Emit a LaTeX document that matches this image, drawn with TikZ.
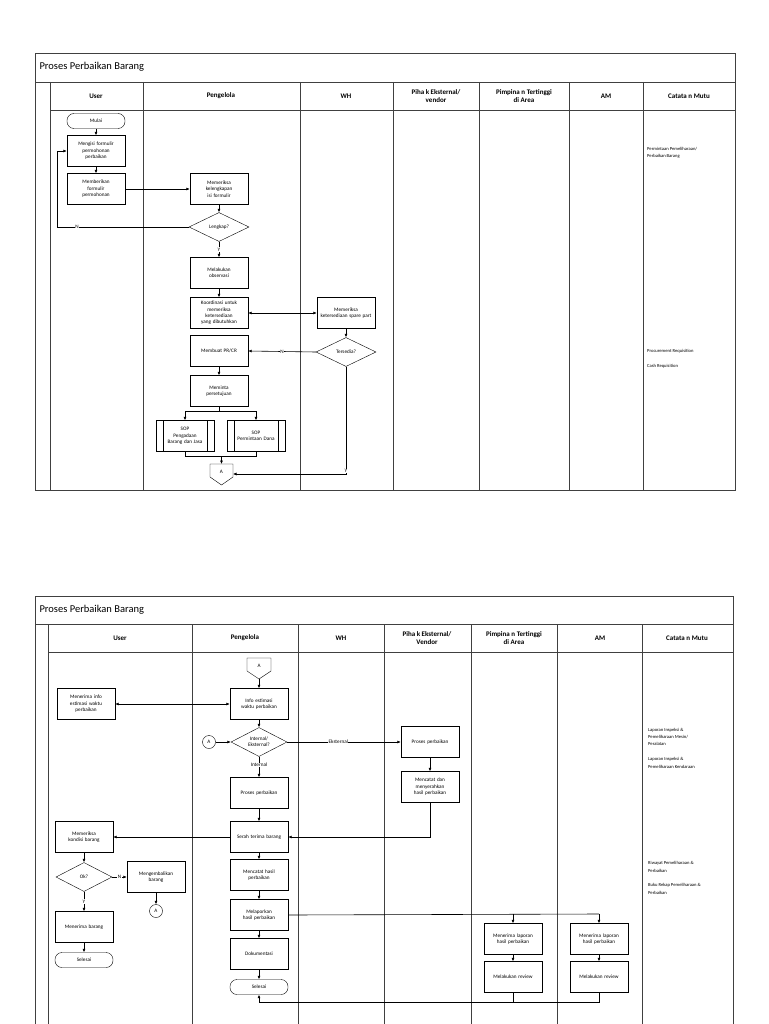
\documentclass[tikz,border=0pt]{standalone}
\usepackage{fontspec}
\setmainfont{Carlito}
\usetikzlibrary{shapes.geometric, arrows.meta, calc}
\hyphenpenalty=10000
\exhyphenpenalty=10000
\tikzset{
  box/.style={draw, minimum width=58, minimum height=31, text width=44, align=center, inner sep=1pt, font=\fontsize{5.2}{6.4}\selectfont},
  term/.style={draw, rounded corners=7, minimum width=58, minimum height=15, inner sep=1pt, font=\fontsize{5.2}{6.4}\selectfont},
  dec/.style={draw, diamond, aspect=2, inner sep=0pt, minimum width=60, minimum height=29, align=center, font=\fontsize{5.2}{6.4}\selectfont},
  conn/.style={draw, circle, minimum size=13, inner sep=0pt, font=\fontsize{5.2}{6.4}\selectfont},
  lab/.style={fill=white, inner sep=0.5pt, font=\fontsize{5.2}{6.4}\selectfont},
  note/.style={anchor=west, inner sep=0pt, align=left, font=\fontsize{4.6}{7.2}\selectfont},
  hdr/.style={align=center, font=\bfseries\fontsize{7}{7.6}\selectfont},
  arr/.style={-{Latex[length=3.5pt,width=3pt]}, line width=0.6pt},
  darr/.style={{Latex[length=3.5pt,width=3pt]}-{Latex[length=3.5pt,width=3pt]}, line width=0.6pt},
  frame/.style={draw=black!75, line width=0.7pt}
}
\begin{document}
\begin{tikzpicture}[x=1pt, y=-1pt]
\useasboundingbox (0,0) rectangle (768,1024);
% ---------- top lanes
\draw[frame] (35,53) rectangle (735,490);
\draw[frame] (35,82) -- (735,82);
\draw[frame] (50,110) -- (735,110);
\foreach \x in {50,143,300,393,479,569,643} \draw[frame] (\x,82) -- (\x,490);
\node[anchor=west, font=\fontsize{10.5}{12}\selectfont] (title1) at (36,67) {Proses Perbaikan Barang};
\node[hdr] (h1) at (96,96) {User};
\node[hdr] (h2) at (221,96) {Pengelola};
\node[hdr] (h3) at (346,96) {WH};
\node[hdr] (h4) at (436,96) {Piha k Eksternal/\\vendor};
\node[hdr] (h5) at (524,96) {Pimpina n Tertinggi\\di Area};
\node[hdr] (h6) at (606,96) {AM};
\node[hdr] (h7) at (689,96) {Catata n Mutu};

\node[term] (mulai) at (96,121) {Mulai};
\node[box] (isi) at (96,151) {Mengisi formulir permohonan perbaikan};
\node[box] (beri) at (96,189) {Memberikan formulir permohonan};
\node[box] (cek) at (219,189) {Memeriksa kelengkapan isi formulir};
\node[dec] (lengkap) at (219,227) {Lengkap?};
\node[box] (obs) at (219,273) {Melakukan observasi};
\node[box, text width=50] (koord) at (219,313) {Koordinasi untuk memeriksa ketersediaan yang dibutuhkan};
\node[box, text width=52] (spare) at (346,313) {Memeriksa ketersediaan spare part};
\node[dec] (sedia) at (346,352) {Tersedia?};
\node[box] (prcr) at (219,351) {Membuat PR/CR};
\node[box] (setuju) at (219,391) {Meminta persetujuan};
\node[box, text width=40] (sop1) at (185,436) {SOP\\Pengadaan Barang dan Jasa};
\node[box, text width=40] (sop2) at (256,436) {SOP\\Permintaan Dana};
\foreach \s in {sop1,sop2} {
  \draw ([xshift=7]\s.north west) -- ([xshift=7]\s.south west);
  \draw ([xshift=-7]\s.north east) -- ([xshift=-7]\s.south east);
}
\draw (210,464) -- (233,464) -- (233,477) -- (221.5,485) -- (210,477) -- cycle;
\node[font=\fontsize{5.2}{6.4}\selectfont] (pa) at (221.5,472) {A};
\coordinate (paE) at (233,474);

\draw[arr] (mulai) -- (isi);
\draw[arr] (isi) -- (beri);
\draw[arr] (beri) -- (cek);
\draw[arr] (cek) -- (lengkap);
\draw[arr] (lengkap.west) -- (57,227) -- (57,151) -- (isi.west);
\node[lab] at (77,227) {N};
\draw[arr] (lengkap) -- node[lab, pos=0.5] {Y} (obs);
\draw[arr] (obs) -- (koord);
\draw[darr] (koord) -- (spare);
\draw[arr] (spare) -- (sedia);
\draw[arr] (sedia.west) -- node[lab, pos=0.5] {N} (prcr.east);
\draw[arr] (prcr) -- (setuju);
\draw (setuju.south) -- (219,411);
\draw[arr] (185,411) -- (256,411) -- (sop2.north);
\draw[arr] (185,411) -- (sop1.north);
\draw (sop1.south) -- (185,456) -- (256,456) -- (sop2.south);
\draw[arr] (221.5,456) -- (221.5,464);
\draw[arr] (sedia.south) -- (346,474) -- (paE);
\node[lab] at (346,471) {Y};

\node[note] (c1) at (647,153) {Permintaan Pemeliharaan/\\Perbaikan Barang};
\node[note] (c2) at (647,351) {Procurement Requisition};
\node[note] (c3) at (647,366) {Cash Requisition};

% ---------- bottom lanes
\draw[frame] (35,1024) -- (35,596) -- (733,596) -- (733,1024);
\draw[frame] (35,624) -- (733,624);
\draw[frame] (48,652) -- (733,652);
\foreach \x in {48,192,298,384,471,557,642} \draw[frame] (\x,624) -- (\x,1024);
\node[anchor=west, font=\fontsize{10.5}{12}\selectfont] (title2) at (36,610) {Proses Perbaikan Barang};
\node[hdr] (g1) at (120,638) {User};
\node[hdr] (g2) at (245,638) {Pengelola};
\node[hdr] (g3) at (341,638) {WH};
\node[hdr] (g4) at (427,638) {Piha k Eksternal/\\Vendor};
\node[hdr] (g5) at (514,638) {Pimpina n Tertinggi\\di Area};
\node[hdr] (g6) at (600,638) {AM};
\node[hdr] (g7) at (687,638) {Catata n Mutu};

\draw (247,658) -- (271,658) -- (271,671) -- (259,679) -- (247,671) -- cycle;
\node[font=\fontsize{5.2}{6.4}\selectfont] (pb) at (259,666) {A};
\coordinate (pbS) at (259,679);
\node[box, text width=52] (info) at (259,704) {Info estimasi waktu perbaikan};
\node[box] (terima) at (86,704) {Menerima info estimasi waktu perbaikan};
\node[dec, minimum width=56] (ie) at (259,742) {Internal/\\Eksternal?};
\node[conn] (ca) at (209,742) {A};
\node[box, text width=52] (pv) at (430,742) {Proses perbaikan};
\node[box, text width=52] (catat) at (430,787) {Mencatat dan menyerahkan hasil perbaikan};
\node[box, text width=52] (pp) at (259,793) {Proses perbaikan};
\node[box, text width=54] (serah) at (259,837) {Serah terima barang};
\node[box, text width=52] (kondisi) at (84,837) {Memeriksa kondisi barang};
\node[dec, minimum width=56] (ok) at (84,877) {Ok?};
\node[box, text width=50] (kembali) at (156,877) {Mengembalikan barang};
\node[conn] (cb) at (156,911) {A};
\node[box, text width=52] (brg) at (84,927) {Menerima barang};
\node[term] (sel1) at (84,960) {Selesai};
\node[box] (hasil) at (259,875) {Mencatat hasil perbaikan};
\node[box, text width=50] (lapor) at (259,915) {Melaporkan hasil perbaikan};
\node[box] (dok) at (259,954) {Dokumentasi};
\node[term] (sel2) at (259,987) {Selesai};
\node[box, text width=50] (lp1) at (513,939) {Menerima laporan hasil perbaikan};
\node[box, text width=52] (rv1) at (513,977) {Melakukan review};
\node[box, text width=50] (lp2) at (599,939) {Menerima laporan hasil perbaikan};
\node[box, text width=52] (rv2) at (599,977) {Melakukan review};

\draw[arr] (pbS) -- (info);
\draw[darr] (terima) -- (info);
\draw[arr] (info) -- (ie);
\draw[arr] (ca) -- (ie);
\draw[arr] (ie.east) -- node[lab, pos=0.45] {Eksternal} (pv.west);
\draw[arr] (pv) -- (catat);
\draw[arr] (ie.south) -- node[lab, pos=0.4] {Internal} (pp.north);
\draw[arr] (catat.south) -- (430,837) -- (serah.east);
\draw[arr] (pp) -- (serah);
\draw[arr] (serah) -- (kondisi);
\draw[arr] (kondisi) -- (ok);
\draw[arr] (ok.east) -- node[lab, pos=0.5] {N} (kembali.west);
\draw[arr] (kembali) -- (cb);
\draw[arr] (ok) -- node[lab, pos=0.5] {Y} (brg);
\draw[arr] (brg) -- (sel1);
\draw[arr] (serah) -- (hasil);
\draw[arr] (hasil) -- (lapor);
\draw[arr] (lapor) -- (dok);
\draw[arr] (dok) -- (sel2);
\draw[line width=0.6pt] (lapor.east) -- (599,914);
\draw[arr] (513,914) -- (lp1.north);
\draw[arr] (599,914) -- (lp2.north);
\draw[arr] (lp1) -- (rv1);
\draw[arr] (lp2) -- (rv2);
\draw[line width=0.6pt] (rv2.south) -- (599,1002) -- (259,1002);
\draw[line width=0.6pt] (rv1.south) -- (513,1002);
\draw[arr] (259,1002) -- (sel2.south);

\node[note] (d1) at (648,737) {Laporan Inspeksi \&\\Pemeliharaan Mesin/\\Peralatan};
\node[note] (d2) at (648,763) {Laporan Inspeksi \&\\Pemeliharaan Kendaraan};
\node[note] (d3) at (648,867) {Riwayat Pemeliharaan \&\\Perbaikan};
\node[note] (d4) at (648,889) {Buku Rekap Pemeliharaan \&\\Perbaikan};
\end{tikzpicture}
\end{document}
